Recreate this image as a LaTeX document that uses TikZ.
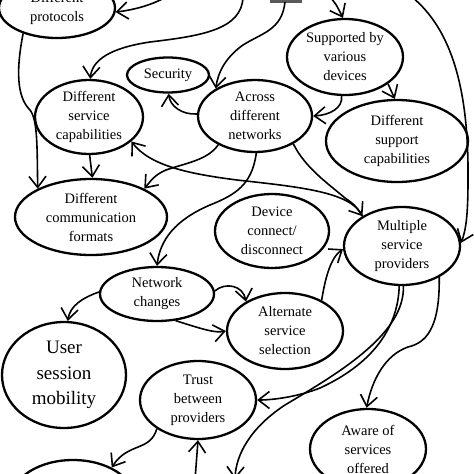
\documentclass[tikz,border=0pt]{standalone}
\usepackage{fontspec}
\setmainfont{Liberation Serif}
\usetikzlibrary{shapes.geometric,arrows.meta}
\begin{document}
\begin{tikzpicture}[x=1pt,y=-1pt,
  el/.style={ellipse,draw,line width=2.3pt,inner sep=-8pt,align=center,
    font=\fontsize{14.5}{19}\selectfont},
  big/.style={font=\fontsize{19}{25.5}\selectfont},
  ed/.style={line width=1.6pt,-{Straight Barb[length=11pt,width=17pt,line width=1.6pt]}},
  blob/.style={fill=black!65,draw=none},
]
\useasboundingbox (0,0) rectangle (474,474);
\clip (0,0) rectangle (474,474);

% nodes
\node[el,minimum width=116pt,minimum height=60pt] (prot) at (57,8) {Different\\protocols};
\node[el,minimum width=82pt,minimum height=35pt] (sec) at (168,75) {Security};
\node[el,minimum width=108pt,minimum height=74pt] (dsc) at (89,117) {Different\\service\\capabilities};
\node[el,minimum width=114pt,minimum height=72pt] (acr) at (255,116) {Across\\different\\networks};
\node[el,minimum width=116pt,minimum height=76pt] (sup) at (345,57) {Supported by\\various\\devices};
\node[el,minimum width=142pt,minimum height=82pt] (dsp) at (397,141) {Different\\support\\capabilities};
\node[el,minimum width=152pt,minimum height=76pt] (comm) at (91,217) {Different\\communication\\formats};
\node[el,minimum width=114pt,minimum height=74pt] (dev) at (272,231) {Device\\connect/\\disconnect};
\node[el,minimum width=116pt,minimum height=78pt] (mul) at (402,246) {Multiple\\service\\providers};
\node[el,minimum width=114pt,minimum height=54pt] (nc) at (157,294) {Network\\changes};
\node[el,minimum width=116pt,minimum height=76pt] (alt) at (285,331) {Alternate\\service\\selection};
\node[el,big,minimum width=124pt,minimum height=106pt] (us) at (64,375) {User\\session\\mobility};
\node[el,minimum width=116pt,minimum height=78pt] (tr) at (198,400) {Trust\\between\\providers};
\node[el,minimum width=116pt,minimum height=80pt] (aw) at (368,449) {Aware of\\services\\offered};
\node[el,minimum width=124pt,minimum height=80pt] (bl) at (73,500) {};

% partial element at top
\fill[blob] (270,-2) rectangle (302,3);

% off-picture ends
\coordinate (t1) at (166,-3);
\coordinate (t2) at (243,-3);
\coordinate (t3) at (285,2);
\coordinate (t4) at (330,-3);
\coordinate (t5) at (412,-3);
\coordinate (b1) at (235,479);
\coordinate (b2) at (195,480);

% connectors
\draw[ed] (t1) .. controls (150,6) and (132,10) .. (prot.-4);
\draw[ed] (prot.-143) .. controls (14,80) and (20,100) .. (30,110) .. controls (38,120) and (37,150) .. (comm.152);
\draw[ed] (t2) .. controls (242,30) and (200,36) .. (150,42) .. controls (110,48) and (92,60) .. (dsc.88);
\draw[ed] (t3) .. controls (282,30) and (262,33) .. (243,45) .. controls (226,57) and (218,72) .. (acr.145);
\draw[ed] (acr.178) .. controls (182,115) and (170,106) .. (sec.-88);
\draw[ed] (sup.-95) .. controls (343,108) and (330,115) .. (acr.0);
\draw[ed] (sup.-32) -- (dsp.93);
\draw[ed] (t4) .. controls (336,4) .. (sup.93);
\draw[ed] (t5) .. controls (452,30) and (469,90) .. (468,180) .. controls (468,215) and (466,230) .. (mul.3);
\draw[ed] (dsc.-89) -- (comm.88);
\draw[ed] (acr.-142) .. controls (208,160) and (186,163) .. (166,170) .. controls (154,175) and (150,182) .. (comm.28);
\draw[ed] (mul.143) .. controls (352,192) and (300,187) .. (237,180) .. controls (190,174) and (150,166) .. (dsc.-30);
\draw[ed] (acr.-36) .. controls (305,168) and (330,185) .. (345,198) .. controls (355,205) .. (mul.143);
\draw[ed] (acr.-88) .. controls (252,185) and (235,195) .. (210,205) .. controls (175,220) and (160,240) .. (nc.90);
\draw[ed] (nc.178) .. controls (82,298) and (70,306) .. (us.86);
\draw[ed] (nc.3) .. controls (225,282) and (243,285) .. (alt.143);
\draw[ed] (nc.-55) .. controls (205,330) and (215,333) .. (alt.180);
\draw[ed] (alt.40) .. controls (325,280) and (330,258) .. (mul.183);
\draw[ed] (mul.-94) .. controls (398,330) and (370,365) .. (320,388) .. controls (300,396) and (275,400) .. (tr.0);
\draw[ed] (mul.-88) .. controls (405,335) and (335,375) .. (285,405) .. controls (250,428) and (236,455) .. (b1);
\draw[ed] (mul.-40) .. controls (440,330) and (425,343) .. (408,347) .. controls (385,355) and (372,380) .. (aw.92);
\draw[ed] (tr.-145) .. controls (150,452) and (128,442) .. (bl.40);
\draw[ed] (b2) -- (tr.-90);
\end{tikzpicture}
\end{document}
